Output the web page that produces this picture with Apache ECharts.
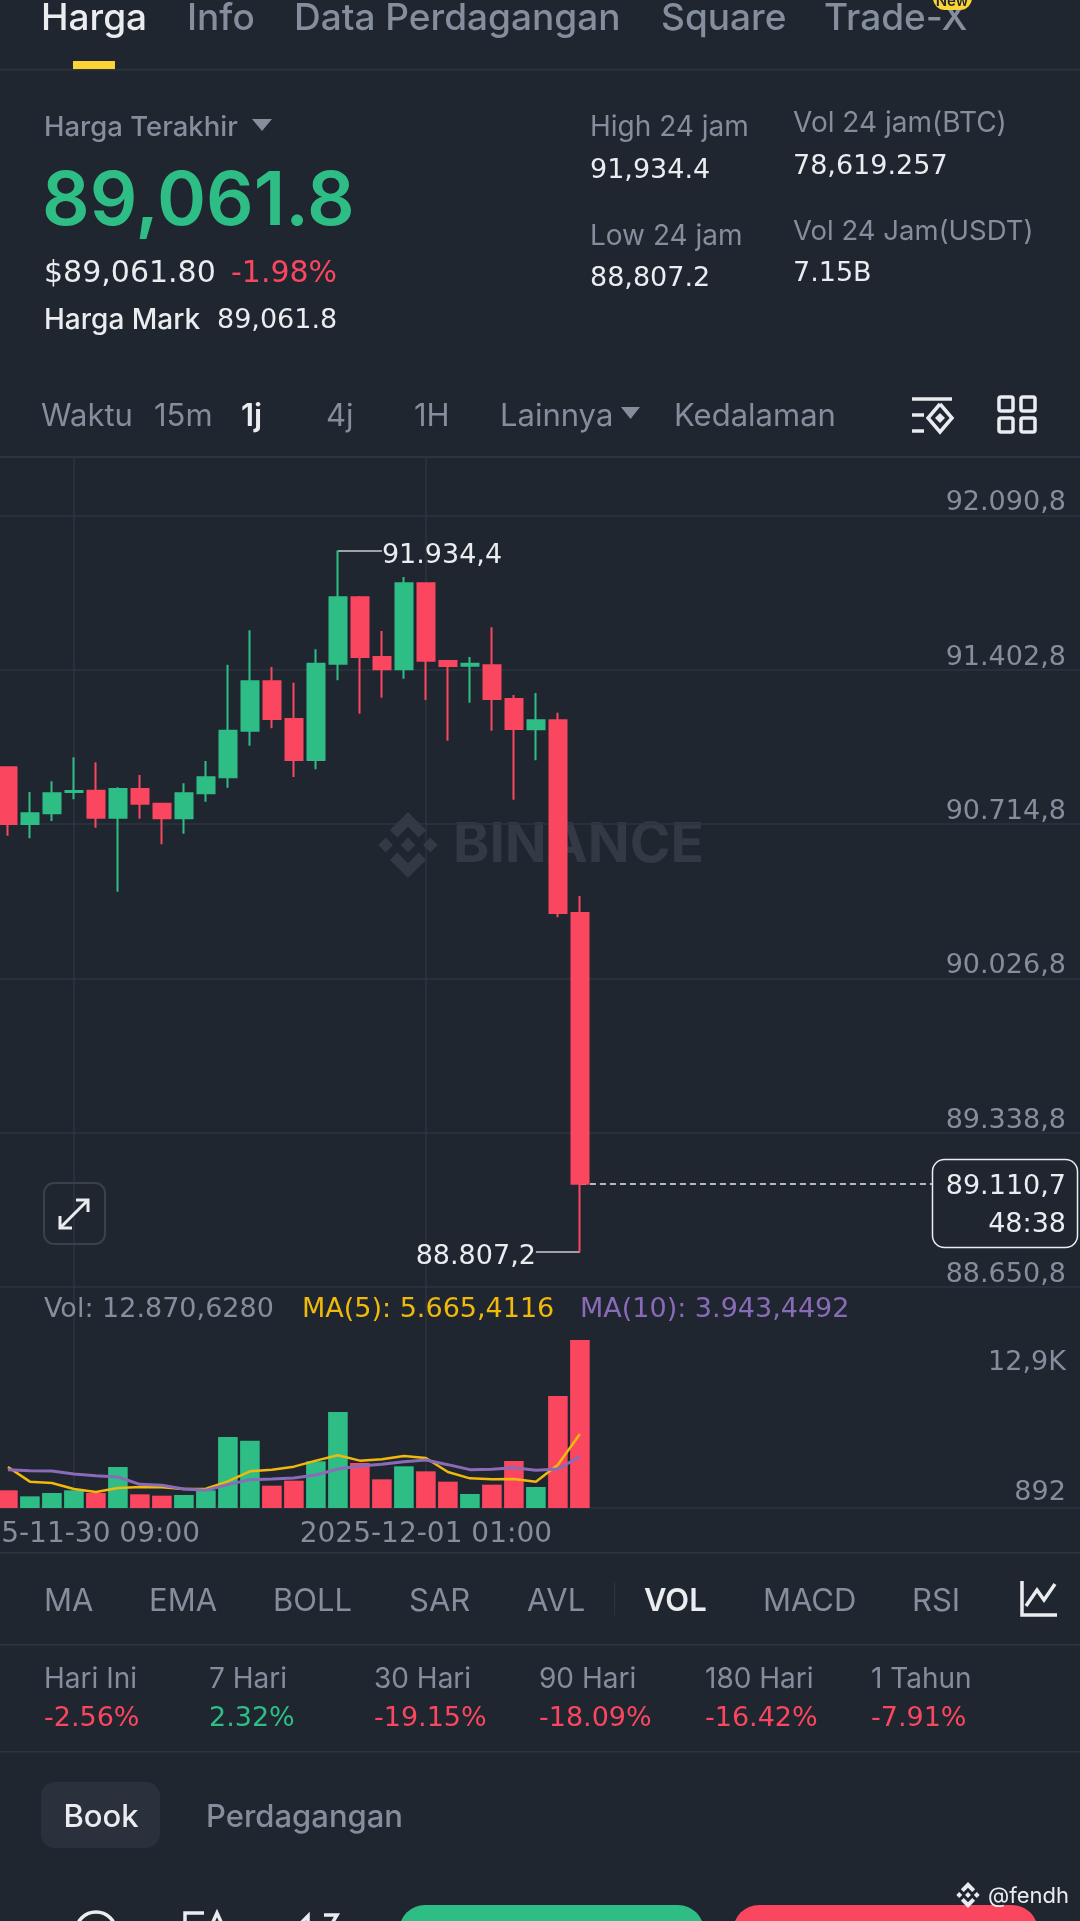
<!DOCTYPE html>
<html>
<head>
<meta charset="utf-8">
<title>BTCUSDT</title>
<script src="https://cdn.jsdelivr.net/npm/echarts@6/dist/echarts.min.js"></script>
<style>
  html, body { margin: 0; padding: 0; background: #1f2630; }
  #chart { width: 1080px; height: 1921px; }
</style>
</head>
<body>
<div id="chart"></div>
<script>
const times = [
  '2025-11-30 06:00', '2025-11-30 07:00', '2025-11-30 08:00', '2025-11-30 09:00', '2025-11-30 10:00',
  '2025-11-30 11:00', '2025-11-30 12:00', '2025-11-30 13:00', '2025-11-30 14:00', '2025-11-30 15:00',
  '2025-11-30 16:00', '2025-11-30 17:00', '2025-11-30 18:00', '2025-11-30 19:00', '2025-11-30 20:00',
  '2025-11-30 21:00', '2025-11-30 22:00', '2025-11-30 23:00', '2025-12-01 00:00', '2025-12-01 01:00',
  '2025-12-01 02:00', '2025-12-01 03:00', '2025-12-01 04:00', '2025-12-01 05:00', '2025-12-01 06:00',
  '2025-12-01 07:00', '2025-12-01 08:00'
];
const emptySlots = 23;
const timeTicks = [3, 19];

// open, close, low, high
const candles = [
  [90967.9, 90715.2, 90663.2, 90967.9],
  [90715.2, 90762.8, 90651.3, 90857.9],
  [90762.8, 90851.9, 90728.6, 90905.4],
  [90857.9, 90862.3, 90825.2, 91012.5],
  [90863.8, 90743.4, 90698.8, 90990.2],
  [90743.4, 90871.3, 90413.5, 90878.7],
  [90871.3, 90805.9, 90739.0, 90933.7],
  [90805.9, 90740.5, 90624.5, 90805.9],
  [90740.5, 90851.9, 90672.1, 90896.5],
  [90851.9, 90923.3, 90814.8, 90996.1],
  [90923.3, 91131.4, 90877.2, 91425.7],
  [91131.4, 91351.3, 91064.5, 91578.7],
  [91351.3, 91183.4, 91141.8, 91415.2],
  [91183.4, 91000.6, 90924.8, 91345.4],
  [91000.6, 91430.1, 90958.9, 91494.0],
  [91430.1, 91725.9, 91355.8, 91934.4],
  [91725.9, 91459.8, 91207.2, 91731.8],
  [91459.8, 91404.8, 91278.5, 91575.8],
  [91404.8, 91788.3, 91363.2, 91816.5],
  [91788.3, 91443.5, 91268.1, 91788.3],
  [91442.0, 91419.7, 91086.8, 91442.0],
  [91421.2, 91430.1, 91256.2, 91459.8],
  [91422.7, 91272.6, 91131.4, 91592.1],
  [91272.6, 91138.8, 90823.7, 91290.4],
  [91137.3, 91177.4, 90999.1, 91299.3],
  [91177.4, 90318.4, 90299.0, 91211.6],
  [90318.4, 89110.7, 88807.2, 90394.2]
];
const volumes = [1354, 892, 1149, 1354, 1149, 3141, 1047, 945, 996, 1354, 5440, 5159, 1711, 2094,
  3576, 7356, 3448, 2196, 3193, 2809, 2018, 1073, 1788, 3601, 1609, 8581, 12870.628];
const ma5 = [3141, 2018, 1916, 1456, 1226, 1532, 1609, 1583, 1456, 1481, 2043, 2809, 2937, 3167,
  3627, 4035, 3627, 3729, 3984, 3831, 2758, 2273, 2196, 2222, 2018, 3320, 5665.4116];
const ma10 = [2937, 2860, 2835, 2605, 2477, 2375, 1813, 1737, 1456, 1354, 1788, 2171, 2222, 2299,
  2528, 2988, 3218, 3346, 3550, 3678, 3320, 2937, 2963, 3090, 2886, 2988, 3943.4492];

const priceTicks = [88650.8, 89338.8, 90026.8, 90714.8, 91402.8, 92090.8];
const priceTickLabels = ['88.650,8', '89.338,8', '90.026,8', '90.714,8', '91.402,8', '92.090,8'];
const volumeTicks = [892, 12870.628];
const volumeTickLabels = ['892', '12,9K'];

const highPrice = 91934.4, highIndex = 15, lowPrice = 88807.2, lowIndex = 26, lastPrice = 89110.7;

const BG = '#1f2630', GREEN = '#2ebd85', RED = '#fa465e', GREY = '#848e9c', WHITE = '#eaecef',
  LINE = '#2e343f', YELLOW = '#f0b90b', PURPLE = '#8a6bb8', FONT = 'Inter', NUM = 'DejaVu Sans';

const tabs = [['Harga', 41, WHITE], ['Info', 187, GREY], ['Data Perdagangan', 294, GREY], ['Square', 661, GREY], ['Trade-X', 824, GREY]];
const periods = [['Waktu', 41, GREY], ['15m', 154, GREY], ['1j', 241, WHITE], ['4j', 326, GREY], ['1H', 414, GREY], ['Lainnya', 500, GREY], ['Kedalaman', 674, GREY]];
const indicators = [['MA', 44, GREY], ['EMA', 149, GREY], ['BOLL', 273, GREY], ['SAR', 409, GREY], ['AVL', 527, GREY], ['VOL', 644, WHITE], ['MACD', 763, GREY], ['RSI', 912, GREY]];
const changeNames = ['Hari Ini', '7 Hari', '30 Hari', '90 Hari', '180 Hari', '1 Tahun'];
const changeValues = ['-2.56%', '2.32%', '-19.15%', '-18.09%', '-16.42%', '-7.91%'];
const changeX = [44, 209, 374, 539, 705, 871];

function label(text, x, y, size, fill, weight, align, family) {
  return {
    type: 'text', z: 100, silent: true,
    style: { text, x, y, fill, align: align || 'left', verticalAlign: 'middle',
      fontFamily: family || FONT, fontSize: size, fontWeight: weight || 400 }
  };
}
function num(text, x, y, size, fill, align) {
  return label(text, x, y, size, fill, 400, align, NUM);
}
function box(x, y, width, height, fill, r, z) {
  return { type: 'rect', z: z || 100, silent: true, shape: { x, y, width, height, r: r || 0 }, style: { fill } };
}
function outline(x, y, width, height, stroke, lineWidth, r) {
  return { type: 'rect', z: 100, silent: true, shape: { x, y, width, height, r }, style: { fill: 'none', stroke, lineWidth } };
}
function stroke(points, color, lineWidth) {
  return { type: 'polyline', z: 100, silent: true, shape: { points }, style: { fill: 'none', stroke: color, lineWidth } };
}
function solid(points, fill, z) {
  return { type: 'polygon', z: z || 100, silent: true, shape: { points }, style: { fill } };
}
// binance mark, r is half the height
function logo(cx, cy, r, fill, z) {
  const u = r / 4;
  const d = (x, y, s) => solid([[x, y - s], [x + s, y], [x, y + s], [x - s, y]], fill, z);
  return [
    d(cx, cy, u * 0.9), d(cx - u * 2.7, cy, u * 0.9), d(cx + u * 2.7, cy, u * 0.9),
    solid([[cx, cy - r], [cx + u * 2.2, cy - u * 1.8], [cx + u * 1.3, cy - u * 0.9], [cx, cy - u * 2.2], [cx - u * 1.3, cy - u * 0.9], [cx - u * 2.2, cy - u * 1.8]], fill, z),
    solid([[cx, cy + r], [cx + u * 2.2, cy + u * 1.8], [cx + u * 1.3, cy + u * 0.9], [cx, cy + u * 2.2], [cx - u * 1.3, cy + u * 0.9], [cx - u * 2.2, cy + u * 1.8]], fill, z)
  ];
}

function chrome() {
  const out = [];
  // tab bar
  tabs.forEach(t => out.push(label(t[0], t[1], 19, 37, t[2], 500)));
  out.push(box(933, -20, 39, 30, '#fcd535', 12));
  out.push(label('New', 952, 1, 15, '#1f2630', 600, 'center'));
  out.push(box(73, 61, 42, 8, '#fcd535'));
  out.push(box(0, 69, 1080, 1.5, LINE));

  // price summary
  out.push(label('Harga Terakhir', 44, 128, 27.5, GREY, 500));
  out.push(solid([[252, 119], [272, 119], [262, 131]], GREY));
  out.push(label('89,061.8', 42, 203, 74.5, GREEN, 600));
  out.push(num('$89,061.80', 44, 274, 30, WHITE));
  out.push(num('-1.98%', 231, 274, 30, RED));
  out.push(label('Harga Mark', 44, 321, 28, WHITE, 500));
  out.push(num('89,061.8', 217, 321, 27, WHITE));
  out.push(label('High 24 jam', 590, 128, 28, GREY));
  out.push(num('91,934.4', 590, 171, 27, WHITE));
  out.push(label('Low 24 jam', 590, 237, 28, GREY));
  out.push(num('88,807.2', 590, 279, 27, WHITE));
  out.push(label('Vol 24 jam(BTC)', 793, 124, 28, GREY));
  out.push(num('78,619.257', 793, 167, 27, WHITE));
  out.push(label('Vol 24 Jam(USDT)', 793, 232, 27.5, GREY));
  out.push(num('7.15B', 793, 274, 27, WHITE));

  // period row
  periods.forEach(t => out.push(label(t[0], t[1], 417, 31, t[2], t[2] === WHITE ? 600 : 400)));
  out.push(solid([[621, 407], [640, 407], [630.5, 419]], GREY));
  out.push(stroke([[912, 399], [952, 399]], WHITE, 3.5));
  out.push(stroke([[912, 415], [924, 415]], WHITE, 3.5));
  out.push(stroke([[912, 431], [924, 431]], WHITE, 3.5));
  out.push(stroke([[940, 404], [952, 418], [940, 432], [928, 418], [940, 404]], WHITE, 3.5));
  out.push(solid([[940, 413], [945, 418], [940, 423], [935, 418]], WHITE));
  [[999, 397], [1021, 397], [999, 418], [1021, 418]].forEach(p => out.push(outline(p[0], p[1], 14, 14, WHITE, 3.5, 2)));
  out.push(box(0, 456, 1080, 2, LINE));

  // expand button
  out.push(outline(44, 1183, 61, 61, '#3a404c', 2, 10));
  out.push(stroke([[60, 1228], [88, 1200]], WHITE, 3));
  out.push(stroke([[60, 1216], [60, 1228], [72, 1228]], WHITE, 3));
  out.push(stroke([[76, 1200], [88, 1200], [88, 1212]], WHITE, 3));

  // last price tag
  out.push({ type: 'rect', z: 100, silent: true, shape: { x: 932.5, y: 1159.5, width: 145, height: 88, r: 12 }, style: { fill: BG, stroke: WHITE, lineWidth: 1.5 } });
  out.push(num('89.110,7', 1066, 1187, 27, WHITE, 'right'));
  out.push(num('48:38', 1066, 1225, 27, WHITE, 'right'));

  // watermark, under the candles
  logo(408, 845, 33, '#333a45', 0).forEach(e => out.push(e));
  const mark = label('BINANCE', 453, 845, 55, '#333a45', 700);
  mark.z = 0;
  out.push(mark);

  // volume legend
  out.push(num('Vol: 12.870,6280', 44, 1310, 27, GREY));
  out.push(num('MA(5): 5.665,4116', 302, 1310, 27, YELLOW));
  out.push(num('MA(10): 3.943,4492', 580, 1310, 27, PURPLE));

  // indicator row
  out.push(box(0, 1552, 1080, 1.5, LINE));
  indicators.forEach(t => out.push(label(t[0], t[1], 1602, 31, t[2], t[2] === WHITE ? 600 : 400)));
  out.push(box(614, 1582, 1, 33, LINE));
  out.push(stroke([[1022, 1581], [1022, 1615], [1057, 1615]], WHITE, 3.5));
  out.push(stroke([[1026, 1606], [1037, 1590], [1044, 1600], [1055, 1584]], WHITE, 3.5));
  out.push(box(0, 1644, 1080, 1.5, LINE));

  // period change row
  changeNames.forEach((n, i) => {
    out.push(label(n, changeX[i], 1680, 28, GREY));
    out.push(num(changeValues[i], changeX[i], 1719, 27, changeValues[i][0] === '-' ? RED : GREEN));
  });
  out.push(box(0, 1751, 1080, 1.5, LINE));

  // book tabs
  out.push(box(41, 1782, 119, 66, '#2b313c', 14));
  out.push(label('Book', 101, 1818, 31, WHITE, 500, 'center'));
  out.push(label('Perdagangan', 206, 1818, 31, GREY, 500));

  // bottom bar
  out.push({ type: 'circle', z: 100, silent: true, shape: { cx: 96, cy: 1932, r: 20 }, style: { fill: 'none', stroke: WHITE, lineWidth: 3.5 } });
  out.push(stroke([[185, 1935], [185, 1913], [204, 1913]], WHITE, 3.5));
  out.push(stroke([[207, 1935], [217, 1913], [227, 1935]], WHITE, 3.5));
  out.push(stroke([[308, 1930], [308, 1916], [298, 1926]], WHITE, 3.5));
  out.push(stroke([[324, 1915], [337, 1915], [328, 1930]], WHITE, 3.5));
  out.push(box(399, 1905, 305, 60, GREEN, 26));
  out.push(box(733, 1905, 305, 60, RED, 26));
  logo(968, 1895, 13, WHITE).forEach(e => out.push(e));
  out.push(label('@fendh', 988, 1896, 22, WHITE));
  return out;
}

const chart = echarts.init(document.getElementById('chart'));
const categories = times.concat(new Array(emptySlots).fill(''));
const slotWidth = 22;

chart.setOption({
  backgroundColor: BG,
  animation: false,
  grid: [
    { left: -3.1, width: categories.length * slotWidth, top: 457, height: 830, outerBoundsMode: 'none' },
    { left: -3.1, width: categories.length * slotWidth, top: 1287, height: 221, outerBoundsMode: 'none' }
  ],
  xAxis: [
    {
      type: 'category', gridIndex: 0, data: categories, boundaryGap: true,
      axisLine: { show: false }, axisLabel: { show: false },
      axisTick: { show: false, alignWithLabel: true, customValues: timeTicks },
      splitLine: { show: true, alignWithLabel: true, lineStyle: { color: LINE, width: 1.5 } }
    },
    {
      type: 'category', gridIndex: 1, data: categories, boundaryGap: true,
      axisLine: { show: true, lineStyle: { color: LINE, width: 1.5 } },
      axisTick: { show: false, alignWithLabel: true, customValues: timeTicks },
      axisLabel: { customValues: timeTicks, margin: 13, color: GREY, fontFamily: NUM, fontSize: 28, hideOverlap: false },
      splitLine: { show: true, alignWithLabel: true, lineStyle: { color: LINE, width: 1.5 } }
    }
  ],
  yAxis: [
    {
      type: 'value', gridIndex: 0, position: 'right', min: 88650.8, max: 92351.5, scale: true,
      axisLine: { show: false },
      axisTick: { show: false, customValues: priceTicks },
      axisLabel: {
        inside: true, margin: 31, align: 'right', verticalAlign: 'bottom', customValues: priceTicks,
        color: GREY, fontFamily: NUM, fontSize: 27, lineHeight: 24,
        formatter: v => priceTickLabels[priceTicks.indexOf(v)]
      },
      splitLine: { show: true, lineStyle: { color: LINE, width: 1.5 } }
    },
    {
      type: 'value', gridIndex: 1, position: 'right', min: 0, max: 16930,
      axisLine: { show: false },
      axisTick: { show: false, customValues: volumeTicks },
      axisLabel: {
        inside: true, margin: 31, align: 'right', customValues: volumeTicks,
        color: GREY, fontFamily: NUM, fontSize: 27,
        formatter: v => v > 5000 ? '{hi|' + volumeTickLabels[1] + '}' : '{lo|' + volumeTickLabels[0] + '}',
        rich: {
          hi: { color: GREY, fontFamily: NUM, fontSize: 27, padding: [46, 0, 0, 0] },
          lo: { color: GREY, fontFamily: NUM, fontSize: 27, padding: [0, 0, 7, 0] }
        }
      },
      splitLine: { show: false }
    }
  ],
  series: [
    {
      name: 'Harga', type: 'candlestick', xAxisIndex: 0, yAxisIndex: 0, data: candles, barWidth: 18, z: 5,
      itemStyle: { color: GREEN, color0: RED, borderColor: GREEN, borderColor0: RED, borderWidth: 2 },
      markLine: {
        silent: true, symbol: 'none', animation: false,
        lineStyle: { color: '#c9ccd1', width: 1.5, type: 'solid' },
        label: { color: WHITE, fontFamily: NUM, fontSize: 27, position: 'end', distance: 0, offset: [0, 5] },
        data: [
          [{ coord: [highIndex, highPrice] },
           { coord: [highIndex + 2, highPrice], label: { formatter: '91.934,4' } }],
          [{ coord: [lowIndex, lowPrice] },
           { coord: [lowIndex - 2, lowPrice], label: { formatter: '88.807,2' } }],
          [{ coord: [lowIndex, lastPrice], lineStyle: { color: WHITE, type: [6, 4], width: 1.5 } },
           { coord: [lowIndex + 16, lastPrice], lineStyle: { color: WHITE, type: [6, 4], width: 1.5 }, label: { show: false } }]
        ]
      }
    },
    {
      name: 'Vol', type: 'bar', xAxisIndex: 1, yAxisIndex: 1, barWidth: 19.6, z: 3,
      data: volumes.map((v, i) => ({
        value: v,
        itemStyle: { color: candles[i][1] >= candles[i][0] ? GREEN : RED }
      }))
    },
    {
      name: 'MA(5)', type: 'line', xAxisIndex: 1, yAxisIndex: 1, data: ma5, showSymbol: false, z: 4,
      lineStyle: { color: YELLOW, width: 2.5 }
    },
    {
      name: 'MA(10)', type: 'line', xAxisIndex: 1, yAxisIndex: 1, data: ma10, showSymbol: false, z: 4,
      lineStyle: { color: PURPLE, width: 3 }
    }
  ],
  graphic: { elements: chrome() }
});
</script>
</body>
</html>
